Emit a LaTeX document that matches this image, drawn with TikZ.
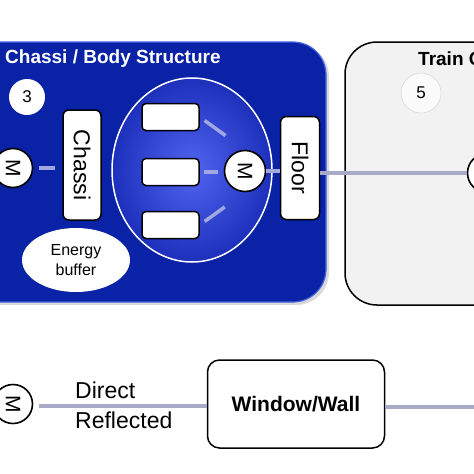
\documentclass[tikz,border=0pt]{standalone}
\usepackage{fontspec}
\setmainfont{Liberation Sans}
\usetikzlibrary{shapes.geometric,calc}
\definecolor{chblue}{RGB}{10,34,165}
\definecolor{chrim}{RGB}{70,100,225}
\definecolor{ellin}{RGB}{80,100,238}
\definecolor{ellout}{RGB}{28,48,188}
\definecolor{lavline}{RGB}{160,168,225}
\definecolor{greyline}{RGB}{168,170,200}
\definecolor{trainfill}{RGB}{242,242,242}
\begin{document}
\begin{tikzpicture}[x=1pt,y=-1pt,
  mcirc/.style={circle,draw=black,line width=1.6pt,fill=white,minimum size=39pt,inner sep=0pt,
    font=\fontsize{21}{21}\selectfont},
  wbox/.style={draw=black,line width=1.5pt,fill=white,rounded corners=5pt,inner sep=0pt},
  inline/.style={line width=3.5pt,draw=lavline},
  outline/.style={line width=4.5pt,draw=greyline},
  bigtext/.style={font=\fontsize{23}{23}\selectfont},
  titletext/.style={font=\fontsize{19}{19}\selectfont\bfseries,inner sep=0pt}]
\useasboundingbox (0,0) rectangle (474,474);
\clip (0,0) rectangle (474,474);
\fill[white] (0,0) rectangle (474,474);
% chassis panel
\fill[gray!30, rounded corners=33pt] (-38,44) rectangle (329,305);
\filldraw[fill=chblue, draw=chrim, line width=1.2pt, rounded corners=33pt] (-40,42) rectangle (326,302);
% train panel
\filldraw[fill=trainfill, draw=black, line width=1.5pt, rounded corners=32pt] (345,42) rectangle (540,305);
% titles
\node[titletext, text=white, anchor=base west] (t1) at (5,63) {Chassi / Body Structure};
\node[titletext, text=black, anchor=base west] (t2) at (418,65) {Train Cabin};
% numbered circles
\node[circle, fill=white, minimum size=36pt, inner sep=0pt, font=\fontsize{17}{17}\selectfont] (n3) at (27,97) {3};
\node[circle, fill=gray!4, draw=gray!25, line width=0.8pt, minimum size=40pt, inner sep=0pt, font=\fontsize{17}{17}\selectfont] (n5) at (421,93) {5};
% inner group
\node[ellipse, minimum width=160pt, minimum height=184pt, inner color=ellin, outer color=ellout,
  draw=white, line width=1.5pt] (grp) at (192,170) {};
\node[wbox, rounded corners=4pt, minimum width=57pt, minimum height=27pt] (b1) at (170.5,117) {};
\node[wbox, rounded corners=4pt, minimum width=57pt, minimum height=27pt] (b2) at (170.5,172) {};
\node[wbox, rounded corners=4pt, minimum width=57pt, minimum height=27pt] (b3) at (170.5,225) {};
\node[mcirc, minimum size=41pt] (mC) at (245,171) {\rotatebox{-90}{M}};
% chassi and floor
\node[wbox, rounded corners=6pt, minimum width=38pt, minimum height=110pt, bigtext] (chassi) at (82,165) {\rotatebox{-90}{Chassi}};
\node[wbox, rounded corners=6pt, minimum width=39pt, minimum height=103pt, bigtext] (floor) at (300,168) {\rotatebox{-90}{Floor}};
\node[mcirc] (mL) at (13,168) {\rotatebox{-90}{M}};
\node[ellipse, fill=white, minimum width=108pt, minimum height=64pt, inner sep=0pt, align=center,
  font=\fontsize{16}{20}\selectfont] (eb) at (76,260) {Energy\\buffer};
\node[mcirc] (mR) at (487,173) {\rotatebox{-90}{M}};
% connectors in chassis
\draw[inline, shorten <=6pt, shorten >=7pt] (mL.east) -- (mL.east -| chassi.west);
\draw[inline, shorten <=6pt, shorten >=24pt] (b1.east) -- (mC.north);
\draw[inline, shorten <=4pt, shorten >=6pt] (b2.east) -- (b2.east -| mC.west);
\draw[inline, shorten <=6pt, shorten >=25pt] (b3.east) -- (mC.south);
\draw[inline] (mC.east) -- (mC.east -| floor.west);
\draw[outline] (floor.east |- mR) -- (mR.west);
% bottom row
\node[mcirc] (mB) at (13,404) {\rotatebox{-90}{M}};
\node[wbox, rounded corners=12pt, minimum width=177pt, minimum height=88pt,
  font=\fontsize{21}{21}\selectfont\bfseries] (win) at (296,404) {Window/Wall};
\coordinate (rEnd) at (480,407);
\draw[outline, shorten <=6pt] (mB.east |- 0,406) -- (win.west |- 0,406);
\draw[outline] (win.east |- rEnd) -- (rEnd);
\node[bigtext, inner sep=0pt, anchor=base west] (dir) at (75,398) {Direct};
\node[bigtext, inner sep=0pt, anchor=base west] (ref) at (75,428) {Reflected};
\end{tikzpicture}
\end{document}
